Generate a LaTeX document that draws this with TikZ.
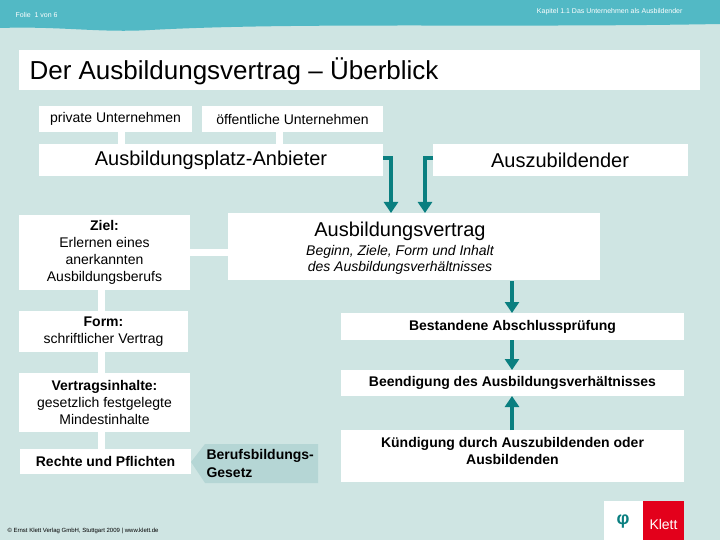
\documentclass[tikz,border=0pt]{standalone}
\usepackage{fontspec}
\usetikzlibrary{arrows.meta}
\setmainfont{Liberation Sans}
\definecolor{bg}{HTML}{CFE5E3}
\definecolor{hdr}{HTML}{52B9C5}
\definecolor{arr}{HTML}{0A7F80}
\definecolor{pent}{HTML}{B5D6D5}
\definecolor{klettred}{HTML}{E3001B}
\begin{document}
\begin{tikzpicture}[x=1pt,y=-1pt,
  conn/.style={white,line width=7pt},
  arrw/.style={arr,line width=4pt,-{Triangle[length=11pt,width=14pt]}},
  fs/.style={font=\fontsize{14}{16}\selectfont}]
\useasboundingbox (0,0) rectangle (720,540);
\fill[bg] (0,0) rectangle (720,540);
\fill[hdr] (0,0) -- (720,0) -- (720,24) .. controls (500,28) and (300,22) .. (150,30) .. controls (100,33) and (60,26) .. (0,28) -- cycle;
\node[anchor=west,white,font=\fontsize{7}{8}\selectfont] (folie) at (12,15) {Folie\ \ 1 von 6};
\node[anchor=east,white,font=\fontsize{7}{8}\selectfont] (kap) at (686,12) {Kapitel 1.1 Das Unternehmen als Ausbildender};
% connectors (white bars) behind
\draw[conn] (121,132) -- (121,144);
\draw[conn] (279,132) -- (279,144);
\draw[conn] (190,252) -- (228,252);
\draw[conn] (101,290) -- (101,449);
% boxes
\fill[white] (19,50) rectangle (700,90);
\node[anchor=west,font=\fontsize{26}{30}\selectfont] (title) at (26,71) {Der Ausbildungsvertrag – Überblick};
\fill[white] (39,106) rectangle (192,132); \node[fs] (priv) at (115.5,119) {private Unternehmen};
\fill[white] (202,106) rectangle (383,132); \node[fs] (oeff) at (292.5,119) {öffentliche Unternehmen};
\fill[white] (39,144) rectangle (383,176); \node[font=\fontsize{20}{23}\selectfont] (anb) at (211,160) {Ausbildungsplatz-Anbieter};
\fill[white] (433,144) rectangle (688,176); \node[font=\fontsize{20}{23}\selectfont] (azb) at (560,160) {Auszubildender};
\fill[white] (228,213) rectangle (600,280);
\node[font=\fontsize{20}{23}\selectfont] (av) at (400,231) {Ausbildungsvertrag};
\node[align=center,font=\itshape\fontsize{14}{16}\selectfont] (avsub) at (400,260) {Beginn, Ziele, Form und Inhalt\\des Ausbildungsverhältnisses};
\fill[white] (19,215) rectangle (190,290);
\node[align=center,font=\fontsize{14}{17}\selectfont] (ziel) at (104.5,252) {\textbf{Ziel:}\\Erlernen eines\\anerkannten\\Ausbildungsberufs};
\fill[white] (19,311) rectangle (188,352);
\node[align=center,font=\fontsize{14}{17}\selectfont] (form) at (103.5,331.5) {\textbf{Form:}\\schriftlicher Vertrag};
\fill[white] (19,373) rectangle (190,432);
\node[align=center,font=\fontsize{14}{17}\selectfont] (vi) at (104.5,402) {\textbf{Vertragsinhalte:}\\gesetzlich festgelegte\\Mindestinhalte};
\fill[white] (20,449) rectangle (191,474);
\node[font=\bfseries\fontsize{14}{16}\selectfont] (rp) at (105.5,461.5) {Rechte und Pflichten};
\fill[pent] (191,462) -- (205,444) -- (318,444) -- (318,483) -- (205,483) -- cycle;
\node[anchor=west,align=left,font=\bfseries\fontsize{14}{18}\selectfont] (bbg) at (203,463) {Berufsbildungs-\\Gesetz};
\fill[white] (341,313) rectangle (684,340);
\node[font=\bfseries\fontsize{14}{16}\selectfont] (best) at (512.5,326.5) {Bestandene Abschlussprüfung};
\fill[white] (341,370) rectangle (684,396);
\node[font=\bfseries\fontsize{14}{16}\selectfont] (beend) at (512.5,383) {Beendigung des Ausbildungsverhältnisses};
\fill[white] (341,430) rectangle (684,482);
\node[align=center,font=\bfseries\fontsize{14}{17}\selectfont] (kuend) at (512.5,451) {Kündigung durch Auszubildenden oder\\Ausbildenden};
% arrows
\coordinate (a1s) at (383,158); \coordinate (a1c) at (391,158); \coordinate (a1e) at (391,213);
\coordinate (a2s) at (433,158); \coordinate (a2c) at (425,158); \coordinate (a2e) at (425,213);
\draw[arrw] (a1s) -- (a1c) -- (a1e);
\draw[arrw] (a2s) -- (a2c) -- (a2e);
\coordinate (b1) at (512,281); \coordinate (b2) at (512,313);
\coordinate (c1) at (512,340); \coordinate (c2) at (512,370);
\coordinate (d1) at (512,430); \coordinate (d2) at (512,396);
\draw[arrw] (b1) -- (b2);
\draw[arrw] (c1) -- (c2);
\draw[arrw] (d1) -- (d2);
% footer
\node[anchor=west,font=\fontsize{6}{7}\selectfont] (foot) at (4,531) {© Ernst Klett Verlag GmbH, Stuttgart 2009 | www.klett.de};
\fill[white] (604,501) rectangle (643,540);
\fill[klettred] (643,501) rectangle (684,540);
\node[white,font=\fontsize{14}{16}\selectfont] (klett) at (663.5,524) {Klett};
\node[arr,font=\bfseries\fontsize{18}{18}\selectfont] (logo) at (623,522) {\char"03C6};
\end{tikzpicture}
\end{document}
